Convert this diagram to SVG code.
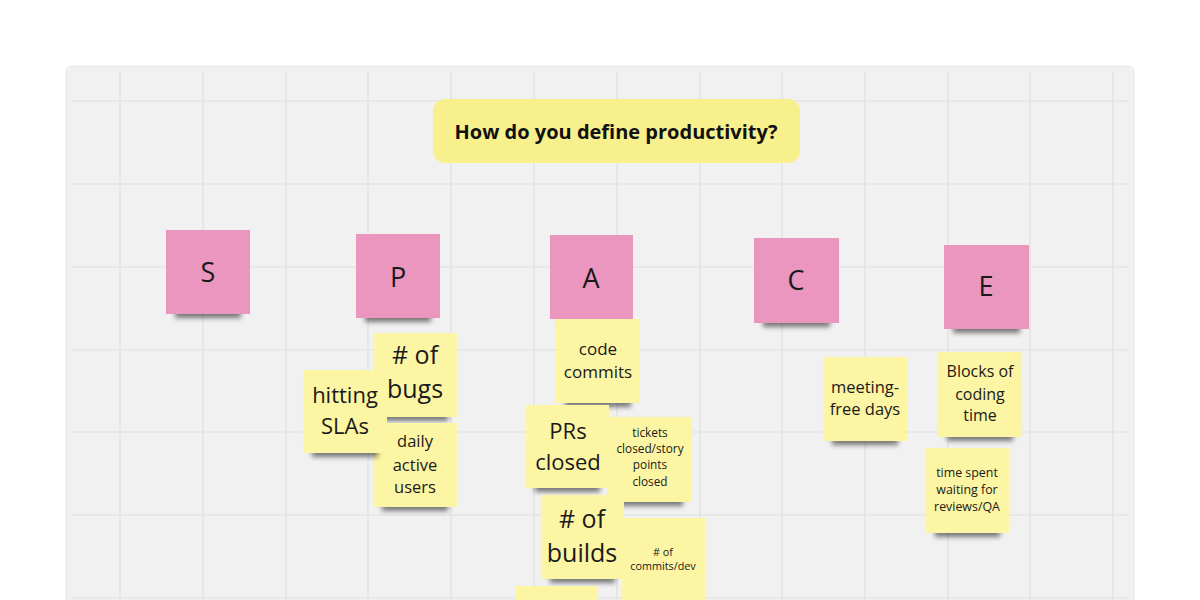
<svg xmlns="http://www.w3.org/2000/svg" width="1200" height="600" viewBox="0 0 1200 600">
<defs>
<filter id="blur" x="-20%" y="-100%" width="140%" height="300%"><feGaussianBlur stdDeviation="2.5"/></filter>
<style>
.board{fill:#f1f1f1;stroke:#e6e6e6;stroke-width:1}
.grid line{stroke:#e0e0e0;stroke-width:1.2}
.sh{fill:#000;opacity:.5;filter:url(#blur)}
.pink{fill:#ea96bf}
.yel{fill:#fcf5a3}
.t{font-family:"Open Sans","Liberation Sans",sans-serif;fill:#1a1a1a;text-anchor:middle}
.title{font-family:"Open Sans","Liberation Sans",sans-serif;font-weight:bold;font-size:20px;fill:#111;text-anchor:middle}
</style>
</defs>
<rect width="1200" height="600" fill="#ffffff"/>
<rect class="board" x="66" y="66" width="1068" height="560" rx="6"/>
<g class="grid">
<line x1="72" y1="101" x2="1128" y2="101"/>
<line x1="72" y1="184" x2="1128" y2="184"/>
<line x1="72" y1="267" x2="1128" y2="267"/>
<line x1="72" y1="350" x2="1128" y2="350"/>
<line x1="72" y1="432" x2="1128" y2="432"/>
<line x1="72" y1="515" x2="1128" y2="515"/>
<line x1="72" y1="598" x2="1128" y2="598"/>
<line x1="120" y1="72" x2="120" y2="600"/>
<line x1="203" y1="72" x2="203" y2="600"/>
<line x1="286" y1="72" x2="286" y2="600"/>
<line x1="368" y1="72" x2="368" y2="600"/>
<line x1="451" y1="72" x2="451" y2="600"/>
<line x1="534" y1="72" x2="534" y2="600"/>
<line x1="617" y1="72" x2="617" y2="600"/>
<line x1="700" y1="72" x2="700" y2="600"/>
<line x1="782" y1="72" x2="782" y2="600"/>
<line x1="865" y1="72" x2="865" y2="600"/>
<line x1="948" y1="72" x2="948" y2="600"/>
<line x1="1030" y1="72" x2="1030" y2="600"/>
<line x1="1113" y1="72" x2="1113" y2="600"/>
</g>
<g id="connectors"></g>
<g id="title">
<rect x="433" y="99" width="367" height="64" rx="12" fill="#f8f08c"/>
<text class="title" x="616" y="139">How do you define productivity?</text>
</g>
<g id="S"><rect class="sh" x="175" y="302" width="66" height="16"/><rect class="pink" x="166" y="230" width="84" height="84"/><text class="t" x="208" y="282" font-size="27">S</text></g>
<g id="P"><rect class="sh" x="365" y="306" width="66" height="16"/><rect class="pink" x="356" y="234" width="84" height="84"/><text class="t" x="398" y="287" font-size="27">P</text></g>
<g id="A"><rect class="sh" x="559" y="307" width="66" height="16"/><rect class="pink" x="550" y="235" width="83" height="84"/><text class="t" x="591" y="288" font-size="27">A</text></g>
<g id="C"><rect class="sh" x="763" y="311" width="67" height="16"/><rect class="pink" x="754" y="238" width="85" height="85"/><text class="t" x="796" y="290" font-size="27">C</text></g>
<g id="E"><rect class="sh" x="953" y="317" width="67" height="16"/><rect class="pink" x="944" y="245" width="85" height="84"/><text class="t" x="986" y="296" font-size="27">E</text></g>
<g id="bugs"><rect class="sh" x="382" y="405" width="66" height="16"/><rect class="yel" x="373" y="333" width="84" height="84"/><text class="t" font-size="25"><tspan x="415" y="364"># of</tspan><tspan x="415" y="398">bugs</tspan></text></g>
<g id="daily"><rect class="sh" x="382" y="495" width="66" height="16"/><rect class="yel" x="373" y="423" width="84" height="84"/><text class="t" font-size="16.5"><tspan x="415" y="447">daily</tspan><tspan x="415" y="471">active</tspan><tspan x="415" y="493">users</tspan></text></g>
<g id="slas"><rect class="sh" x="312" y="441" width="66" height="16"/><rect class="yel" x="303" y="370" width="84" height="83"/><text class="t" font-size="22"><tspan x="345" y="403">hitting</tspan><tspan x="345" y="434">SLAs</tspan></text></g>
<g id="code"><rect class="sh" x="565" y="391" width="66" height="16"/><rect class="yel" x="556" y="319" width="84" height="84"/><text class="t" font-size="17"><tspan x="598" y="355">code</tspan><tspan x="598" y="378">commits</tspan></text></g>
<g id="tickets"><rect class="sh" x="616" y="490" width="67" height="16"/><rect class="yel" x="607" y="417" width="85" height="85"/><text class="t" font-size="11.8"><tspan x="650" y="437">tickets</tspan><tspan x="650" y="453">closed/story</tspan><tspan x="650" y="469">points</tspan><tspan x="650" y="486">closed</tspan></text></g>
<g id="prs"><rect class="sh" x="535" y="476" width="65" height="16"/><rect class="yel" x="526" y="405" width="83" height="83"/><text class="t" font-size="22"><tspan x="568" y="439">PRs</tspan><tspan x="568" y="470">closed</tspan></text></g>
<g id="commitsdev"><rect class="yel" x="622" y="518" width="83" height="90"/><text class="t" font-size="10.8"><tspan x="663" y="556"># of</tspan><tspan x="663" y="570">commits/dev</tspan></text></g>
<g id="builds"><rect class="sh" x="550" y="567" width="65" height="16"/><rect class="yel" x="541" y="495" width="83" height="84"/><text class="t" font-size="25"><tspan x="582" y="528"># of</tspan><tspan x="582" y="562">builds</tspan></text></g>
<g id="bottom"><rect class="yel" x="515" y="586" width="83" height="20"/></g>
<g id="meeting"><rect class="sh" x="832" y="429" width="66" height="16"/><rect class="yel" x="823" y="357" width="84" height="84"/><text class="t" font-size="16.5"><tspan x="865" y="393">meeting-</tspan><tspan x="865" y="415">free days</tspan></text></g>
<g id="blocks"><rect class="sh" x="947" y="425" width="66" height="16"/><rect class="yel" x="938" y="352" width="84" height="85"/><text class="t" font-size="16"><tspan x="980" y="377">Blocks of</tspan><tspan x="980" y="400">coding</tspan><tspan x="980" y="421">time</tspan></text></g>
<g id="waiting"><rect class="sh" x="935" y="521" width="65" height="16"/><rect class="yel" x="926" y="448" width="83" height="85"/><text class="t" font-size="12.4"><tspan x="967" y="477">time spent</tspan><tspan x="967" y="494">waiting for</tspan><tspan x="967" y="511">reviews/QA</tspan></text></g>
</svg>
